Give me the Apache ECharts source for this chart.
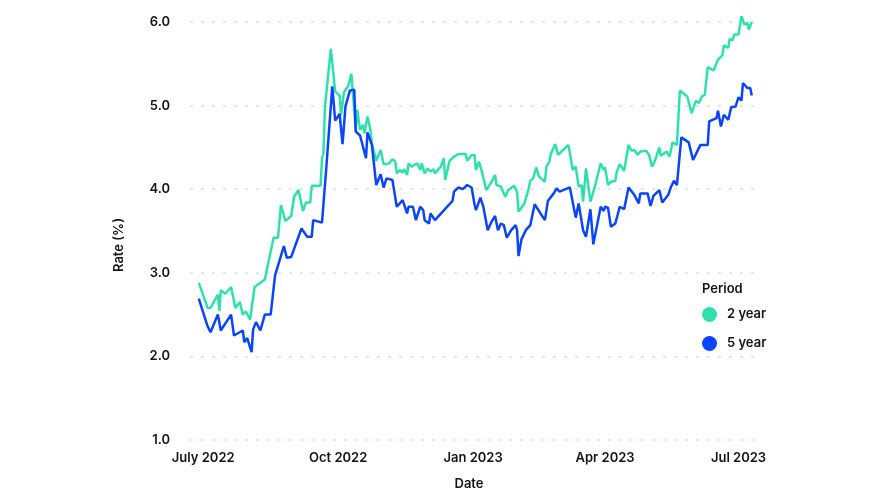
<!DOCTYPE html>
<html>
<head>
<meta charset="utf-8">
<script src="https://cdn.jsdelivr.net/npm/echarts@6/dist/echarts.min.js"></script>
<style>
html,body{margin:0;padding:0;background:#fff;}
#chart{width:876px;height:496px;}
</style>
</head>
<body>
<div id="chart"></div>
<script>
// x values are days counted from 1 July 2022.
const days2y = [-3,3,5,10,11,12,15,19,22,25,27,29,32,35,42,48,51,53,56,60,62,65,68,70,73,74,80,81,82,83,87,90,93,94,96,99,101,103,104,105,107,109,110,112,114,115,118,121,123,125,127,129,131,132,134,136,137,139,140,142,146,148,149,151,153,155,157,158,162,164,165,168,171,174,179,180,183,185,186,188,190,193,196,199,200,203,206,208,212,214,215,219,222,223,225,227,229,233,234,236,237,238,240,242,246,249,252,254,256,258,259,261,264,267,271,273,274,276,278,281,282,284,287,290,292,294,296,298,302,304,306,308,311,312,316,318,320,323,325,330,333,336,338,340,342,344,348,351,354,355,358,359,361,362,365,367,369,371,372,374];
const rate2y = [2.88,2.58,2.58,2.74,2.54,2.79,2.75,2.83,2.58,2.65,2.50,2.54,2.44,2.83,2.92,3.42,3.42,3.81,3.62,3.68,3.91,3.99,3.74,3.84,3.84,4.04,4.04,4.37,4.43,4.98,5.68,5.17,5.12,4.89,5.16,5.24,5.38,4.95,4.71,4.95,4.71,4.77,4.67,4.87,4.71,4.55,4.34,4.47,4.30,4.30,4.31,4.36,4.33,4.19,4.23,4.20,4.24,4.17,4.31,4.27,4.31,4.23,4.31,4.19,4.25,4.21,4.24,4.19,4.27,4.37,4.11,4.34,4.39,4.42,4.42,4.34,4.41,4.41,4.23,4.33,4.21,3.99,4.07,4.17,4.05,4.03,3.91,3.99,4.04,3.97,3.73,3.83,4.01,4.10,4.13,4.26,4.15,4.09,4.27,4.33,4.42,4.40,4.54,4.41,4.48,4.53,4.23,4.27,4.03,4.05,3.85,4.25,3.85,4.03,4.31,4.23,4.26,4.05,4.09,4.10,4.21,4.30,4.22,4.53,4.46,4.47,4.41,4.45,4.46,4.41,4.27,4.34,4.50,4.40,4.45,4.39,4.56,4.53,5.18,5.11,4.91,5.06,5.03,5.11,5.13,5.46,5.42,5.55,5.60,5.72,5.69,5.80,5.78,5.85,5.85,6.07,5.97,5.99,5.91,6.00];
const days5y = [-3,3,5,10,12,19,21,27,28,30,33,34,36,39,42,46,49,55,57,60,67,71,74,75,81,84,88,90,93,95,97,100,103,104,107,111,112,115,118,121,123,125,129,132,136,139,140,143,145,148,150,151,154,155,158,170,171,174,177,180,183,185,186,189,191,194,196,199,201,203,205,207,210,213,214,215,217,220,223,226,230,233,235,239,241,243,247,250,252,254,256,259,261,264,266,269,271,273,274,276,278,281,284,287,290,294,297,298,303,305,307,311,313,317,319,321,323,326,331,334,339,344,345,350,351,353,355,358,360,363,365,367,368,371,373,374];
const rate5y = [2.69,2.36,2.29,2.50,2.31,2.50,2.25,2.31,2.17,2.22,2.05,2.32,2.41,2.31,2.50,2.50,2.97,3.32,3.18,3.19,3.53,3.43,3.43,3.63,3.60,4.27,5.23,4.82,4.90,4.54,4.99,5.18,5.19,4.69,4.64,4.37,4.68,4.53,4.05,4.18,4.02,4.13,4.11,3.79,3.87,3.71,3.79,3.79,3.63,3.79,3.75,3.63,3.59,3.71,3.63,3.86,3.97,4.02,4.00,4.05,4.02,3.82,3.75,3.90,3.79,3.51,3.59,3.68,3.51,3.59,3.57,3.42,3.51,3.57,3.51,3.20,3.40,3.51,3.57,3.82,3.71,3.63,3.86,3.95,4.01,3.97,4.00,4.02,3.84,3.66,3.83,3.51,3.43,3.76,3.34,3.61,3.79,3.74,3.79,3.78,3.55,3.59,3.79,3.76,4.02,3.93,3.83,3.95,3.95,3.80,3.92,3.99,3.84,3.93,4.03,4.10,4.05,4.62,4.56,4.35,4.53,4.53,4.81,4.85,4.94,4.75,4.89,4.83,4.98,4.99,5.10,5.06,5.27,5.21,5.21,5.12];
const tickDays = [0, 92, 184, 274, 365];
const tickLabels = ['July 2022', 'Oct 2022', 'Jan 2023', 'Apr 2023', 'Jul 2023'];
const seriesNames = ['2 year', '5 year'];

const pairs = (ds, vs) => ds.map((d, i) => [d, vs[i]]);

const FONT = 'Inter, "Noto Sans", sans-serif';
const INK = '#141414';
const chart = echarts.init(document.getElementById('chart'), null, {renderer: 'canvas'});
chart.setOption({
  backgroundColor: '#ffffff',
  animation: false,
  textStyle: {fontFamily: FONT},
  grid: {left: 190, right: 114, top: 22, bottom: 55},
  title: {
    text: 'Period', left: 697, top: 278,
    textStyle: {fontFamily: FONT, fontSize: 13, fontWeight: 600, color: INK}
  },
  legend: {
    orient: 'vertical', left: 697, top: 302, itemGap: 14,
    icon: 'circle', itemWidth: 15, itemHeight: 15,
    data: seriesNames,
    textStyle: {fontFamily: FONT, fontSize: 13, fontWeight: 600, color: INK, padding: [0, 0, 0, 5]}
  },
  xAxis: {
    type: 'value',
    min: -9, max: 381,
    name: 'Date', nameLocation: 'middle', nameGap: 38,
    nameTextStyle: {fontFamily: FONT, fontSize: 13, fontWeight: 600, color: INK, padding: [0, 14, 0, 0]},
    axisLine: {show: false}, axisTick: {show: false}, splitLine: {show: false},
    axisLabel: {
      customValues: tickDays,
      margin: 12,
      fontFamily: FONT, fontSize: 13, fontWeight: 600, color: INK,
      formatter: v => { const i = tickDays.indexOf(v); return i >= 0 ? tickLabels[i] : ''; }
    }
  },
  yAxis: {
    type: 'value', min: 1, max: 6, interval: 1,
    name: 'Rate (%)', nameLocation: 'middle', nameGap: 64, nameRotate: 90,
    nameTextStyle: {fontFamily: FONT, fontSize: 13, fontWeight: 600, color: INK, padding: [0, 28, 0, 0]},
    axisLine: {show: false}, axisTick: {show: false},
    axisLabel: {
      margin: 20, fontFamily: FONT, fontSize: 13, fontWeight: 600, color: INK,
      formatter: v => v.toFixed(1)
    },
    splitLine: {show: true, lineStyle: {color: '#e6e6e6', width: 2, type: [3, 8]}}
  },
  series: [
    {
      name: seriesNames[0], type: 'line', data: pairs(days2y, rate2y),
      showSymbol: false, clip: false,
      lineStyle: {width: 2.5, color: '#2fe0ae'}, itemStyle: {color: '#2fe0ae'}
    },
    {
      name: seriesNames[1], type: 'line', data: pairs(days5y, rate5y),
      showSymbol: false, clip: false,
      lineStyle: {width: 2.5, color: '#0b45fb'}, itemStyle: {color: '#0b45fb'}
    }
  ]
});
</script>
</body>
</html>
